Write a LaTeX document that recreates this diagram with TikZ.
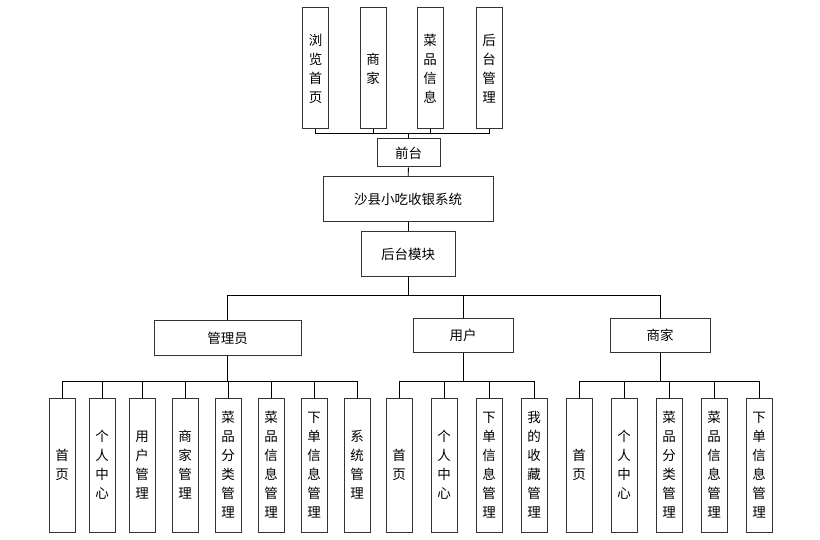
\documentclass[tikz,border=0pt]{standalone}
\usepackage{fontspec}
\newfontfamily\cjk{Noto Sans CJK SC}
\begin{document}
\begin{tikzpicture}[x=1pt,y=-1pt,
  bx/.style={draw=black!80,line width=1pt,fill=white,inner sep=0pt,font=\cjk\fontsize{13.5}{19}\selectfont,align=center},
  vb/.style={bx,minimum width=26pt,minimum height=134pt},
  tb/.style={bx,minimum width=26pt,minimum height=121pt},
  ln/.style={draw=black,line width=0.9pt}]
\useasboundingbox (0,0) rectangle (820,540);
% top
\node[tb] (t1) at (315.5,68.5) {浏\\览\\首\\页};
\node[tb] (t2) at (373,68.5) {商\\家};
\node[tb] (t3) at (430,68.5) {菜\\品\\信\\息};
\node[tb] (t4) at (489,68.5) {后\\台\\管\\理};
\node[bx,minimum width=63pt,minimum height=28pt] (qt) at (408.5,153) {前台};
\node[bx,minimum width=170pt,minimum height=45pt] (sys) at (408,199.5) {沙县小吃收银系统};
\node[bx,minimum width=94pt,minimum height=45pt] (ht) at (408,254.5) {后台模块};
\coordinate (tb) at (408.5,133);
\foreach \t in {t1,t2,t3,t4} \draw[ln] (\t.south) |- (tb);
\draw[ln] (tb) -- (qt.north);
\draw[ln] (qt) -- (sys);
\draw[ln] (sys) -- (ht);
% second level
\node[bx,minimum width=147pt,minimum height=34pt] (adm) at (227.5,338) {管理员};
\node[bx,minimum width=100pt,minimum height=33pt] (usr) at (463,335.5) {用户};
\node[bx,minimum width=100pt,minimum height=33pt] (mer) at (660,335.5) {商家};
\coordinate (mb) at (408,295);
\draw[ln] (ht.south) -- (mb);
\foreach \t in {adm,usr,mer} \draw[ln] (\t.north) |- (mb);
% admin
\foreach \n/\x/\s in {a1/62/首\\页, a2/102/个\\人\\中\\心, a3/142/用\\户\\管\\理, a4/185/商\\家\\管\\理, a5/228/菜\\品\\分\\类\\管\\理, a6/271/菜\\品\\信\\息\\管\\理, a7/314/下\\单\\信\\息\\管\\理, a8/357/系\\统\\管\\理}
  \node[vb] (\n) at (\x,465) {\s};
\coordinate (ab) at (227.5,381);
\draw[ln] (adm.south) -- (ab);
\foreach \n in {a1,a2,a3,a4,a5,a6,a7,a8} \draw[ln] (\n.north) |- (ab);
% user
\foreach \n/\x/\s in {u1/399/首\\页, u2/444/个\\人\\中\\心, u3/489/下\\单\\信\\息\\管\\理, u4/534/我\\的\\收\\藏\\管\\理}
  \node[vb] (\n) at (\x,465) {\s};
\coordinate (ub) at (463,381);
\draw[ln] (usr.south) -- (ub);
\foreach \n in {u1,u2,u3,u4} \draw[ln] (\n.north) |- (ub);
% merchant
\foreach \n/\x/\s in {m1/579/首\\页, m2/624/个\\人\\中\\心, m3/669/菜\\品\\分\\类\\管\\理, m4/714/菜\\品\\信\\息\\管\\理, m5/759/下\\单\\信\\息\\管\\理}
  \node[vb] (\n) at (\x,465) {\s};
\coordinate (cb) at (660,381);
\draw[ln] (mer.south) -- (cb);
\foreach \n in {m1,m2,m3,m4,m5} \draw[ln] (\n.north) |- (cb);
\end{tikzpicture}
\end{document}
